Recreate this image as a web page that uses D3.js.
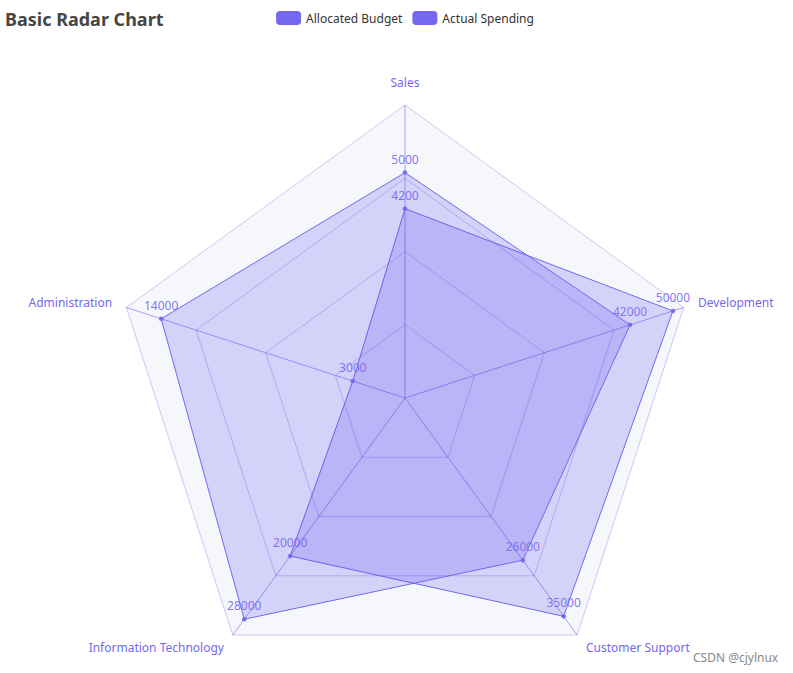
<!DOCTYPE html>
<html>
<head>
<meta charset="utf-8">
<script src="https://cdn.jsdelivr.net/npm/d3@7"></script>
<style>
  html, body { margin: 0; padding: 0; background: #fff; }
  svg { display: block; font-family: "Noto Sans", "Open Sans", sans-serif; }
</style>
</head>
<body>
<svg id="chart" width="793" height="673"></svg>
<script>
const indicators = ["Sales", "Administration", "Information Technology", "Customer Support", "Development"];
const maxValues = [6500, 16000, 30000, 38000, 52000];
const seriesNames = ["Allocated Budget", "Actual Spending"];
const allocatedBudget = [4200, 3000, 20000, 35000, 50000];
const actualSpending = [5000, 14000, 28000, 26000, 42000];
const splitLevels = [1, 2, 3, 4];

const mainColor = "#7468f0";
const fillColor = "rgb(80,64,238)";

const svg = d3.select("#chart");
const cx = 405, cy = 398, R = 293;

const angle = d3.scaleLinear().domain([0, indicators.length]).range([Math.PI / 2, Math.PI / 2 + 2 * Math.PI]);
const axisScales = maxValues.map(m => d3.scaleLinear().domain([0, m]).range([0, R]));
const levelScale = d3.scaleLinear().domain([0, splitLevels.length]).range([0, R]);

function pt(i, r) {
  const a = angle(i);
  return [cx + r * Math.cos(a), cy - r * Math.sin(a)];
}

const ringPoints = lvl => indicators.map((_, i) => pt(i, levelScale(lvl)));
const line = d3.line().curve(d3.curveLinearClosed);

// split areas
svg.append("g").selectAll("path").data(splitLevels.slice().reverse()).join("path")
  .attr("d", d => line(ringPoints(d)))
  .attr("fill", "#f6f7fb")
  .attr("stroke", "none");

// split lines
svg.append("g").selectAll("path").data(splitLevels).join("path")
  .attr("d", d => line(ringPoints(d)))
  .attr("fill", "none")
  .attr("stroke", "rgba(116,104,240,0.35)")
  .attr("stroke-width", 1);

// axis lines
svg.append("g").selectAll("line").data(indicators).join("line")
  .attr("x1", cx).attr("y1", cy)
  .attr("x2", (d, i) => pt(i, R)[0])
  .attr("y2", (d, i) => pt(i, R)[1])
  .attr("stroke", "rgba(116,104,240,0.6)")
  .attr("stroke-width", 1);

// axis names
const nameGap = 15;
svg.append("g").selectAll("text").data(indicators).join("text")
  .each(function (d, i) {
    const [x, y] = pt(i, R + nameGap);
    const a = angle(i);
    const c = Math.cos(a), s = Math.sin(a);
    const anchor = c > 0.01 ? "start" : c < -0.01 ? "end" : "middle";
    d3.select(this)
      .attr("x", x)
      .attr("y", s > 0.99 ? y - 3 : y + 4.5)
      .attr("text-anchor", anchor)
      .attr("font-size", 12)
      .attr("fill", mainColor)
      .text(d);
  });

// series
const seriesData = [allocatedBudget, actualSpending];
const seriesG = svg.append("g");
seriesData.forEach((vals) => {
  const pts = vals.map((v, i) => pt(i, axisScales[i](v)));
  seriesG.append("path")
    .attr("d", line(pts))
    .attr("fill", fillColor)
    .attr("fill-opacity", 0.2)
    .attr("stroke", mainColor)
    .attr("stroke-width", 1);
});
seriesData.forEach((vals) => {
  const pts = vals.map((v, i) => pt(i, axisScales[i](v)));
  seriesG.append("g").selectAll("circle").data(pts).join("circle")
    .attr("cx", d => d[0]).attr("cy", d => d[1]).attr("r", 2)
    .attr("fill", mainColor).attr("stroke", mainColor).attr("stroke-width", 0.5);
  seriesG.append("g").selectAll("text").data(vals).join("text")
    .attr("x", (d, i) => pts[i][0])
    .attr("y", (d, i) => pts[i][1] - 9)
    .attr("text-anchor", "middle")
    .attr("font-size", 12)
    .attr("fill", mainColor)
    .attr("fill-opacity", 0.9)
    .text(d => d);
});

// title
svg.append("text")
  .attr("x", 5).attr("y", 26)
  .attr("font-size", 18).attr("font-weight", "bold")
  .attr("fill", "#464646")
  .text("Basic Radar Chart");

// legend (centered around x = 405)
const legendG = svg.append("g");
const items = legendG.selectAll("g").data(seriesNames).join("g");
items.append("rect").attr("width", 25).attr("height", 14).attr("rx", 4)
  .attr("fill", mainColor);
items.append("text").attr("x", 30).attr("y", 11.5)
  .attr("font-size", 12).attr("fill", "#333")
  .text(d => d);
let offs = 0;
const widths = [];
items.each(function () {
  const w = 30 + d3.select(this).select("text").node().getComputedTextLength();
  widths.push(w);
});
const totalW = d3.sum(widths) + 10 * (widths.length - 1);
let startX = 405 - totalW / 2;
items.attr("transform", (d, i) => {
  const x = startX + offs;
  offs += widths[i] + 10;
  return `translate(${x},11)`;
});

// watermark
svg.append("text")
  .attr("x", 693).attr("y", 662)
  .attr("font-size", 12).attr("fill", "#888")
  .text("CSDN @cjylnux");
</script>
</body>
</html>
